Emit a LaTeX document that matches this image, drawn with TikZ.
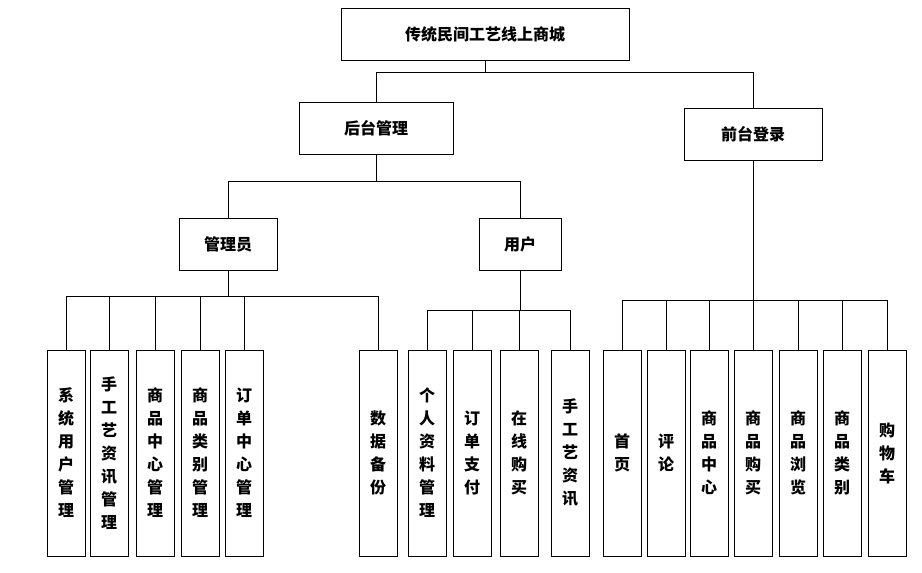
\documentclass[tikz,border=0pt]{standalone}
\usepackage{fontspec}
\newfontfamily\cjk{Noto Sans CJK SC}
\begin{document}
\begin{tikzpicture}[x=1pt,y=-1pt,
  box/.style={draw,line width=0.8pt,inner sep=0pt,font=\cjk\bfseries\fontsize{16}{18}\selectfont},
  leaf/.style={draw,line width=0.8pt,inner sep=0pt,minimum width=38pt,minimum height=206pt,align=center,font=\cjk\bfseries\fontsize{16}{23}\selectfont},
  ln/.style={line width=0.8pt}]
\useasboundingbox (0,0) rectangle (922,573);
\node[box,minimum width=288pt,minimum height=52pt] (root) at (485,34) {传统民间工艺线上商城};
\node[box,minimum width=154pt,minimum height=52pt] (ht) at (376,128) {后台管理};
\node[box,minimum width=138pt,minimum height=52pt] (qt) at (753,134) {前台登录};
\node[box,minimum width=98pt,minimum height=52pt] (gly) at (228,244) {管理员};
\node[box,minimum width=82pt,minimum height=52pt] (yh) at (520,244) {用户};
\foreach \n/\x/\t in {a1/66/系\\统\\用\\户\\管\\理, a2/109/手\\工\\艺\\资\\讯\\管\\理, a3/155/商\\品\\中\\心\\管\\理, a4/200/商\\品\\类\\别\\管\\理, a5/244/订\\单\\中\\心\\管\\理, a6/378/数\\据\\备\\份,
 b1/427/个\\人\\资\\料\\管\\理, b2/472/订\\单\\支\\付, b3/519/在\\线\\购\\买, b4/570/手\\工\\艺\\资\\讯,
 c1/622/首\\页, c2/666/评\\论, c3/709/商\\品\\中\\心, c4/753/商\\品\\购\\买, c5/798/商\\品\\浏\\览, c6/842/商\\品\\类\\别, c7/887/购\\物\\车}
 \node[leaf] (\n) at (\x,453) {\t};
\draw[ln] (root.south) -- ++(0,12) coordinate (r1);
\draw[ln] (ht.north) |- (r1) -| (qt.north);
\draw[ln] (ht.south) -- ++(0,27) coordinate (h1);
\draw[ln] (gly.north) |- (h1) -| (yh.north);
\draw[ln] (gly.south) -- ++(0,26) coordinate (g1);
\draw[ln] (a1.north) |- (g1) -| (a6.north);
\foreach \n in {a2,a3,a4,a5} \draw[ln] (\n.north) -- (\n.north |- g1);
\draw[ln] (yh.south) -- ++(0,40) coordinate (y1);
\draw[ln] (b1.north) |- (y1) -| (b4.north);
\foreach \n in {b2,b3} \draw[ln] (\n.north) -- (\n.north |- y1);
\draw[ln] (qt.south) -- ++(0,140) coordinate (q1);
\draw[ln] (c1.north) |- (q1) -| (c7.north);
\foreach \n in {c2,c3,c4,c5,c6} \draw[ln] (\n.north) -- (\n.north |- q1);
\end{tikzpicture}
\end{document}
